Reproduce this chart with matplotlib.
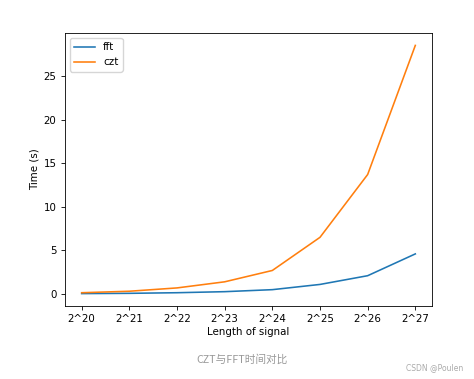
import matplotlib
matplotlib.use("Agg")
import matplotlib.pyplot as plt

plt.rcParams['font.family'] = ['DejaVu Sans', 'Noto Sans CJK SC']

tick_labels = ["2^20", "2^21", "2^22", "2^23", "2^24", "2^25", "2^26", "2^27"]
fft_times = [0.05, 0.08, 0.15, 0.27, 0.5, 1.1, 2.1, 4.6]
czt_times = [0.15, 0.32, 0.7, 1.4, 2.7, 6.5, 13.7, 28.5]

fs = 7.4
fig = plt.figure(figsize=(4.74, 3.79), dpi=100)
ax = fig.add_axes([65/474, 1-306/379, (432-65)/474, (306-33)/379])
x = list(range(len(tick_labels)))
ax.plot(x, fft_times, label="fft", lw=1.15)
ax.plot(x, czt_times, label="czt", lw=1.15)
ax.set_xticks(x)
ax.set_xticklabels(tick_labels, fontsize=fs)
ax.tick_params(axis='y', labelsize=fs)
ax.tick_params(length=2.6, width=0.6)
for s in ax.spines.values():
    s.set_linewidth(0.6)
ax.set_xlabel("Length of signal", fontsize=fs, labelpad=2)
ax.set_ylabel("Time (s)", fontsize=fs, labelpad=3)
ax.legend(loc="upper left", fontsize=fs, handlelength=2.0, borderpad=0.4)

fig.text(242/474, 1-360/379, "CZT与FFT时间对比", ha="center", va="center",
         fontsize=7.7, color="#999999", family=['Noto Sans CJK SC', 'DejaVu Sans'])
fig.text(463/474, 1-368/379, "CSDN @Poulen", ha="right", va="center",
         fontsize=5.5, color="#aaaaaa")

fig.savefig("out.png", dpi=100)
